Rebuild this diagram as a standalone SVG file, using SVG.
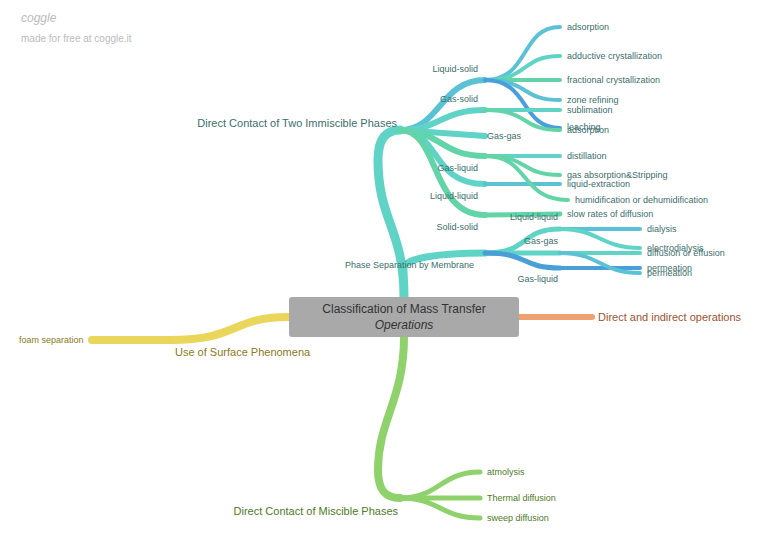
<svg xmlns="http://www.w3.org/2000/svg" width="768" height="549" viewBox="0 0 768 549">
<style>
text{font-family:"Liberation Sans",Arial,sans-serif;font-size:9px;fill:#3d6e6c}
.b{fill:none;stroke-linecap:round}
.t{stroke:#5fd3c6}
.u{stroke:#5bc2d6}
.g{stroke:#62d4a8}
.d{stroke:#4a9fd8}
.l{font-size:11px}
</style>
<rect width="768" height="549" fill="#fff"/>
<text x="21" y="22" style="font-size:12px;font-style:italic;fill:#bbb">coggle</text>
<text x="21" y="42" style="font-size:10px;fill:#bbb">made for free at coggle.it</text>
<g id="connectors">
<path class="b t" stroke-width="9" d="M404 297 C404 230 378 220 378 160 C378 140 385 130 400 130"/>
<path class="b t" stroke-width="7" d="M404 297 L404 268 C404 258 440 253 485 253"/>
<path class="b u" stroke-width="6" d="M400 130 C440 130 440 80 485 80"/>
<path class="b t" stroke-width="6" d="M400 130 C440 130 440 110 485 110"/>
<path class="b t" stroke-width="6" d="M400 130 L485 136"/>
<path class="b g" stroke-width="6" d="M400 130 C440 130 440 156 485 156"/>
<path class="b t" stroke-width="6" d="M400 130 C440 130 430 184 485 184"/>
<path class="b g" stroke-width="6" d="M400 130 C440 130 430 215 485 215"/>
<path class="b u" stroke-width="4" d="M485 80 C530 80 520 27 560 27"/>
<path class="b t" stroke-width="4" d="M485 80 C530 80 520 56 560 56"/>
<path class="b g" stroke-width="4" d="M485 80 L560 80"/>
<path class="b u" stroke-width="4" d="M485 80 C530 80 520 100 560 100"/>
<path class="b d" stroke-width="4" d="M485 80 C530 80 520 128 560 128"/>
<path class="b t" stroke-width="4" d="M485 110 L560 110"/>
<path class="b g" stroke-width="4" d="M485 110 C530 110 520 130 560 130"/>
<path class="b t" stroke-width="4" d="M485 156 L560 156"/>
<path class="b g" stroke-width="4" d="M485 156 C530 156 520 175 560 175"/>
<path class="b u" stroke-width="4" d="M485 184 L560 184"/>
<path class="b g" stroke-width="4" d="M485 156 C530 156 520 200 568 200"/>
<path class="b g" stroke-width="5" d="M485 215 L560 214"/>
<path class="b t" stroke-width="5" d="M485 253 C530 253 520 229 560 229"/>
<path class="b t" stroke-width="5" d="M485 253 L560 253"/>
<path class="b d" stroke-width="5" d="M485 253 C530 253 520 268 560 268"/>
<path class="b u" stroke-width="4" d="M560 229 L640 229"/>
<path class="b t" stroke-width="4" d="M560 229 C600 229 600 248 640 248"/>
<path class="b t" stroke-width="4" d="M560 253 L640 253"/>
<path class="b d" stroke-width="4" d="M560 268 L640 268"/>
<path class="b u" stroke-width="4" d="M560 253 C600 253 600 273 640 273"/>
<path class="b" stroke="#e9d65a" stroke-width="8" d="M289 317 C230 317 240 340 170 340 L92 340"/>
<path class="b" stroke="#eea070" stroke-width="6" d="M519 317 L592 317"/>
<path class="b" stroke="#8fd16a" stroke-width="8" d="M404 337 C404 400 378 420 378 470 C378 490 385 498 400 498"/>
<path class="b" stroke="#8fd16a" stroke-width="5" d="M400 498 C440 498 440 472 480 472"/>
<path class="b" stroke="#8fd16a" stroke-width="5" d="M400 498 L480 498"/>
<path class="b" stroke="#8fd16a" stroke-width="5" d="M400 498 C440 498 440 518 480 518"/>
</g>
<g id="center"><rect x="289" y="297" width="230" height="40" rx="3" fill="#a9a9a9"/>
<text x="404" y="313" text-anchor="middle" style="font-size:12px;fill:#333">Classification of Mass Transfer</text>
<text x="404" y="329" text-anchor="middle" style="font-size:12px;fill:#333;font-style:italic">Operations</text></g>
<g id="immiscible"><text class="l" x="397" y="127" text-anchor="end">Direct Contact of Two Immiscible Phases</text></g>
<g id="membrane"><text x="345" y="268">Phase Separation by Membrane</text></g>
<g id="n-ls"><text x="478" y="72" text-anchor="end">Liquid-solid</text></g>
<g id="n-gs"><text x="478" y="102" text-anchor="end">Gas-solid</text></g>
<g id="n-gg"><text x="487" y="139">Gas-gas</text></g>
<g id="n-gl"><text x="478" y="171" text-anchor="end">Gas-liquid</text></g>
<g id="n-ll"><text x="478" y="199" text-anchor="end">Liquid-liquid</text></g>
<g id="n-ss"><text x="478" y="230" text-anchor="end">Solid-solid</text></g>
<g id="n-mll"><text x="558" y="220" text-anchor="end">Liquid-liquid</text></g>
<g id="n-mgg"><text x="558" y="244" text-anchor="end">Gas-gas</text></g>
<g id="n-mgl"><text x="558" y="282" text-anchor="end">Gas-liquid</text></g>
<g id="leaves">
<text x="567" y="30">adsorption</text>
<text x="567" y="59">adductive crystallization</text>
<text x="567" y="83">fractional crystallization</text>
<text x="567" y="103">zone refining</text>
<text x="567" y="113">sublimation</text>
<text x="567" y="130">leaching</text>
<text x="567" y="133">adsorption</text>
<text x="567" y="159">distillation</text>
<text x="567" y="178">gas absorption&amp;Stripping</text>
<text x="567" y="187">liquid-extraction</text>
<text x="575" y="203">humidification or dehumidification</text>
<text x="567" y="217">slow rates of diffusion</text>
<text x="647" y="232">dialysis</text>
<text x="647" y="251">electrodialysis</text>
<text x="647" y="256">diffusion or effusion</text>
<text x="647" y="271">permeation</text>
<text x="647" y="276">permeation</text>
</g>
<g id="surface"><text class="l" x="175" y="356" style="fill:#8a7a20">Use of Surface Phenomena</text>
<text x="19" y="343" style="fill:#8a7a20">foam separation</text></g>
<g id="indirect"><text class="l" x="598" y="321" style="fill:#a0522d">Direct and indirect operations</text></g>
<g id="miscible"><text class="l" x="398" y="515" text-anchor="end" style="fill:#4f7a28">Direct Contact of Miscible Phases</text>
<text x="487" y="475" style="fill:#4f7a28">atmolysis</text>
<text x="487" y="501" style="fill:#4f7a28">Thermal diffusion</text>
<text x="487" y="521" style="fill:#4f7a28">sweep diffusion</text></g>
</svg>
